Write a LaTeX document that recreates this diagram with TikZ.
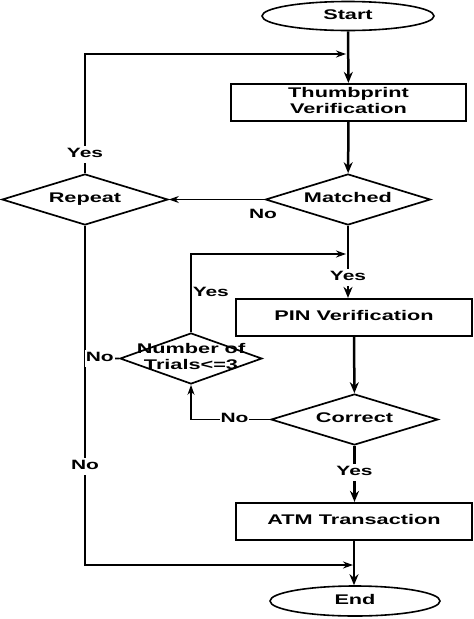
\documentclass[tikz,border=0pt]{standalone}
\usepackage{fontspec}
\setmainfont{Liberation Sans}
\usepackage{graphicx}
\usetikzlibrary{arrows.meta,positioning,shapes.geometric}
\newcommand{\wtxt}[1]{\scalebox{1.55}[1]{\begin{tabular}{@{}c@{}}#1\end{tabular}}}
\newcommand{\dtxt}[1]{\makebox[0pt]{\wtxt{#1}}}
\tikzset{
  terminal/.style={draw=black, ellipse, line width=1.6pt, inner sep=0pt, font=\fontsize{14}{16}\selectfont\bfseries},
  box/.style={draw=black, line width=2.2pt, inner sep=0pt, minimum width=235pt, minimum height=37pt, font=\fontsize{14}{16}\selectfont\bfseries},
  decision/.style={draw=black, diamond, line width=1.7pt, inner sep=0pt, font=\fontsize{14}{15.5}\selectfont\bfseries},
  lbl/.style={inner sep=1pt, font=\fontsize{13.5}{15}\selectfont\bfseries},
  onlbl/.style={lbl, fill=white},
  arrow/.style={-{Stealth[length=11pt,width=9pt]}, line width=2.5pt},
  thinarrow/.style={-{Stealth[length=10pt,width=7pt]}, line width=1.6pt}
}
\begin{document}
\begin{tikzpicture}[x=1pt,y=-1pt]
\useasboundingbox (0,0) rectangle (474,619);
% nodes
\node[terminal, minimum width=172pt, minimum height=29pt] (start) at (348,16) {\wtxt{Start}};
\node[box] (thumb) at (348.5,102.5) {\wtxt{Thumbprint\\Verification}};
\node[decision, minimum width=165pt, minimum height=51pt] (matched) at (348,199.5) {\dtxt{Matched}};
\node[decision, minimum width=166pt, minimum height=51pt] (repeat) at (85,199.5) {\dtxt{Repeat}};
\node[box, minimum width=236pt] (pin) at (354,317.5) {\wtxt{PIN Verification}};
\node[decision, minimum width=142pt, minimum height=51pt] (trials) at (191,358.5) {\dtxt{Number of\\Trials<=3}};
\node[decision, minimum width=167pt, minimum height=51pt] (correct) at (354.5,419.5) {\dtxt{Correct}};
\node[box, minimum width=236pt] (atm) at (354,521.5) {\wtxt{ATM Transaction}};
\node[terminal, minimum width=170pt, minimum height=30pt] (end) at (355,601) {\wtxt{End}};
% junctions on the main line
\coordinate (topjoin) at (346,54);
\coordinate (midjoin) at (346,254);
\coordinate (endjoin) at (353,565);
\coordinate (leftjoin) at (84,358);
% main flow
\draw[arrow] (start) -- (thumb);
\draw[arrow] (thumb) -- (matched);
\draw[arrow] (matched.south) -- node[onlbl, pos=0.72] {\wtxt{Yes}} (matched.south |- pin.north);
\draw[arrow] (pin) -- (correct);
\draw[arrow] (correct.south) -- node[onlbl, pos=0.48] {\wtxt{Yes}} (correct.south |- atm.north);
\draw[arrow] (atm.south) -- (atm.south |- end.north);
% branches
\draw[thinarrow] (matched.west) -- (repeat.east);
\node[lbl] (nomatch) at (263,215) {\wtxt{No}};
\draw[thinarrow] (repeat.north) -- node[onlbl, pos=0.16] {\wtxt{Yes}} (repeat.north |- topjoin) -- (topjoin);
\draw[thinarrow] (repeat.south) -- node[onlbl, pos=0.71] {\wtxt{No}} (repeat.south |- endjoin) -- (endjoin);
\draw[thinarrow] (trials.north) -- node[lbl, right, pos=0.5] {\wtxt{Yes}} (trials.north |- midjoin) -- (midjoin);
\draw[thinarrow] (correct.west) -- node[onlbl, pos=0.45] {\wtxt{No}} (trials.south |- correct.west) -- (trials.south);
\draw[-{Stealth[length=5pt,width=5pt]}, line width=1.6pt] (trials.west) -- node[onlbl, pos=0.55] {\wtxt{No}} (leftjoin);
\end{tikzpicture}
\end{document}
